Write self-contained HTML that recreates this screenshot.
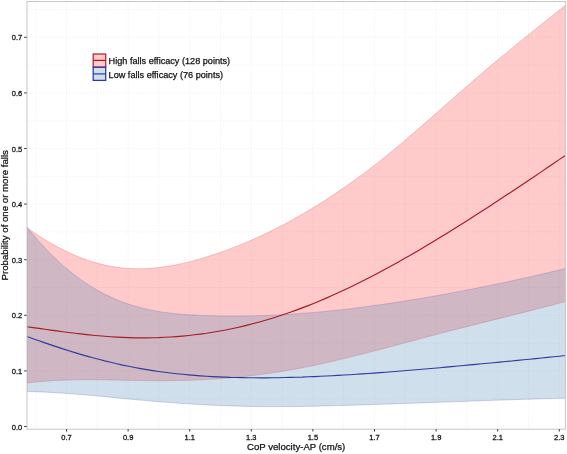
<!DOCTYPE html>
<html><head><meta charset="utf-8"><title>Probability of one or more falls</title>
<style>
html,body{margin:0;padding:0;background:#fff;}
body{width:567px;height:454px;overflow:hidden;}
svg{display:block;font-family:"Liberation Sans",Arial,sans-serif;}
</style></head><body>
<svg width="567" height="454" viewBox="0 0 567 454">
<rect width="567" height="454" fill="#fff"/>
<g stroke="#efefef" stroke-width="0.8" stroke-dasharray="1.2 1.6" fill="none">
<line x1="35.7" y1="1.5" x2="35.7" y2="429.2"/><line x1="66.5" y1="1.5" x2="66.5" y2="429.2"/><line x1="97.3" y1="1.5" x2="97.3" y2="429.2"/><line x1="128.1" y1="1.5" x2="128.1" y2="429.2"/><line x1="158.9" y1="1.5" x2="158.9" y2="429.2"/><line x1="189.7" y1="1.5" x2="189.7" y2="429.2"/><line x1="220.5" y1="1.5" x2="220.5" y2="429.2"/><line x1="251.3" y1="1.5" x2="251.3" y2="429.2"/><line x1="282.1" y1="1.5" x2="282.1" y2="429.2"/><line x1="312.9" y1="1.5" x2="312.9" y2="429.2"/><line x1="343.7" y1="1.5" x2="343.7" y2="429.2"/><line x1="374.5" y1="1.5" x2="374.5" y2="429.2"/><line x1="405.3" y1="1.5" x2="405.3" y2="429.2"/><line x1="436.1" y1="1.5" x2="436.1" y2="429.2"/><line x1="466.9" y1="1.5" x2="466.9" y2="429.2"/><line x1="497.7" y1="1.5" x2="497.7" y2="429.2"/><line x1="528.5" y1="1.5" x2="528.5" y2="429.2"/><line x1="559.3" y1="1.5" x2="559.3" y2="429.2"/><line x1="27.0" y1="426.5" x2="565.4" y2="426.5"/><line x1="27.0" y1="398.7" x2="565.4" y2="398.7"/><line x1="27.0" y1="370.9" x2="565.4" y2="370.9"/><line x1="27.0" y1="343.1" x2="565.4" y2="343.1"/><line x1="27.0" y1="315.3" x2="565.4" y2="315.3"/><line x1="27.0" y1="287.5" x2="565.4" y2="287.5"/><line x1="27.0" y1="259.7" x2="565.4" y2="259.7"/><line x1="27.0" y1="231.9" x2="565.4" y2="231.9"/><line x1="27.0" y1="204.1" x2="565.4" y2="204.1"/><line x1="27.0" y1="176.3" x2="565.4" y2="176.3"/><line x1="27.0" y1="148.5" x2="565.4" y2="148.5"/><line x1="27.0" y1="120.7" x2="565.4" y2="120.7"/><line x1="27.0" y1="92.9" x2="565.4" y2="92.9"/><line x1="27.0" y1="65.1" x2="565.4" y2="65.1"/><line x1="27.0" y1="37.3" x2="565.4" y2="37.3"/><line x1="27.0" y1="9.5" x2="565.4" y2="9.5"/>
</g>
<clipPath id="pc"><rect x="27.0" y="1.5" width="538.4" height="427.7"/></clipPath>
<g clip-path="url(#pc)">
<path d="M27.0 227.7 L33.0 231.9 L39.0 235.9 L45.0 239.7 L50.9 243.2 L56.9 246.6 L62.9 249.7 L68.9 252.6 L74.9 255.3 L80.8 257.7 L86.8 259.9 L92.8 261.9 L98.8 263.6 L104.8 265.1 L110.8 266.3 L116.8 267.3 L122.7 268.0 L128.7 268.5 L134.7 268.7 L140.7 268.7 L146.7 268.5 L152.7 268.1 L158.6 267.5 L164.6 266.8 L170.6 265.8 L176.6 264.7 L182.6 263.4 L188.6 262.0 L194.5 260.4 L200.5 258.7 L206.5 256.9 L212.5 255.0 L218.5 253.0 L224.4 250.9 L230.4 248.7 L236.4 246.4 L242.4 243.9 L248.4 241.4 L254.4 238.8 L260.4 236.1 L266.3 233.3 L272.3 230.3 L278.3 227.3 L284.3 224.2 L290.3 221.0 L296.2 217.6 L302.2 214.2 L308.2 210.7 L314.2 207.1 L320.2 203.4 L326.2 199.6 L332.1 195.7 L338.1 191.6 L344.1 187.5 L350.1 183.3 L356.1 179.0 L362.1 174.7 L368.1 170.2 L374.0 165.6 L380.0 160.9 L386.0 156.1 L392.0 151.2 L398.0 146.3 L403.9 141.2 L409.9 136.1 L415.9 131.0 L421.9 125.8 L427.9 120.5 L433.9 115.3 L439.9 110.0 L445.8 104.7 L451.8 99.4 L457.8 94.1 L463.8 88.9 L469.8 83.7 L475.8 78.5 L481.7 73.4 L487.7 68.3 L493.7 63.3 L499.7 58.3 L505.7 53.4 L511.6 48.5 L517.6 43.6 L523.6 38.7 L529.6 33.9 L535.6 29.1 L541.6 24.3 L547.5 19.6 L553.5 14.8 L559.5 10.1 L565.5 5.3 L565.5 301.5 L559.5 303.1 L553.5 304.7 L547.5 306.2 L541.6 307.8 L535.6 309.3 L529.6 310.9 L523.6 312.4 L517.6 313.9 L511.6 315.4 L505.7 316.9 L499.7 318.4 L493.7 319.9 L487.7 321.4 L481.7 322.9 L475.8 324.4 L469.8 325.9 L463.8 327.4 L457.8 329.0 L451.8 330.5 L445.8 332.0 L439.9 333.6 L433.9 335.1 L427.9 336.7 L421.9 338.3 L415.9 339.9 L409.9 341.5 L403.9 343.1 L398.0 344.7 L392.0 346.3 L386.0 347.9 L380.0 349.5 L374.0 351.0 L368.1 352.6 L362.1 354.1 L356.1 355.6 L350.1 357.1 L344.1 358.6 L338.1 360.0 L332.1 361.4 L326.2 362.8 L320.2 364.1 L314.2 365.4 L308.2 366.6 L302.2 367.8 L296.2 368.9 L290.3 370.0 L284.3 371.0 L278.3 372.0 L272.3 372.9 L266.3 373.7 L260.4 374.5 L254.4 375.3 L248.4 376.0 L242.4 376.6 L236.4 377.2 L230.4 377.8 L224.4 378.3 L218.5 378.7 L212.5 379.1 L206.5 379.5 L200.5 379.8 L194.5 380.1 L188.6 380.3 L182.6 380.4 L176.6 380.6 L170.6 380.7 L164.6 380.7 L158.6 380.7 L152.7 380.7 L146.7 380.6 L140.7 380.5 L134.7 380.4 L128.7 380.3 L122.7 380.2 L116.8 380.1 L110.8 379.9 L104.8 379.8 L98.8 379.8 L92.8 379.7 L86.8 379.7 L80.8 379.7 L74.9 379.8 L68.9 380.0 L62.9 380.2 L56.9 380.4 L50.9 380.8 L45.0 381.2 L39.0 381.7 L33.0 382.3 L27.0 383.0Z" fill="#ff2a2a" fill-opacity="0.25" stroke="#e06060" stroke-opacity="0.45" stroke-width="0.7"/>
<path d="M27.0 227.3 L33.0 234.6 L39.0 241.5 L45.0 248.1 L50.9 254.2 L56.9 260.0 L62.9 265.4 L68.9 270.5 L74.9 275.2 L80.8 279.7 L86.8 283.7 L92.8 287.5 L98.8 291.0 L104.8 294.2 L110.8 297.1 L116.8 299.7 L122.7 302.1 L128.7 304.2 L134.7 306.0 L140.7 307.7 L146.7 309.2 L152.7 310.4 L158.6 311.5 L164.6 312.4 L170.6 313.2 L176.6 313.8 L182.6 314.4 L188.6 314.8 L194.5 315.1 L200.5 315.4 L206.5 315.6 L212.5 315.8 L218.5 315.9 L224.4 316.0 L230.4 316.0 L236.4 316.0 L242.4 316.0 L248.4 315.9 L254.4 315.8 L260.4 315.6 L266.3 315.4 L272.3 315.2 L278.3 314.9 L284.3 314.6 L290.3 314.2 L296.2 313.8 L302.2 313.4 L308.2 312.9 L314.2 312.4 L320.2 311.9 L326.2 311.3 L332.1 310.7 L338.1 310.1 L344.1 309.4 L350.1 308.7 L356.1 308.0 L362.1 307.2 L368.1 306.4 L374.0 305.6 L380.0 304.8 L386.0 303.9 L392.0 303.0 L398.0 302.1 L403.9 301.2 L409.9 300.2 L415.9 299.3 L421.9 298.3 L427.9 297.2 L433.9 296.2 L439.9 295.1 L445.8 294.0 L451.8 292.9 L457.8 291.8 L463.8 290.7 L469.8 289.5 L475.8 288.3 L481.7 287.1 L487.7 285.9 L493.7 284.7 L499.7 283.4 L505.7 282.2 L511.6 280.9 L517.6 279.6 L523.6 278.2 L529.6 276.9 L535.6 275.5 L541.6 274.2 L547.5 272.8 L553.5 271.3 L559.5 269.9 L565.5 268.4 L565.5 398.2 L559.5 398.3 L553.5 398.5 L547.5 398.7 L541.6 398.8 L535.6 399.0 L529.6 399.2 L523.6 399.3 L517.6 399.5 L511.6 399.7 L505.7 399.9 L499.7 400.1 L493.7 400.3 L487.7 400.5 L481.7 400.7 L475.8 400.9 L469.8 401.1 L463.8 401.4 L457.8 401.6 L451.8 401.8 L445.8 402.0 L439.9 402.2 L433.9 402.4 L427.9 402.7 L421.9 402.9 L415.9 403.1 L409.9 403.3 L403.9 403.5 L398.0 403.7 L392.0 403.9 L386.0 404.1 L380.0 404.3 L374.0 404.5 L368.1 404.7 L362.1 404.9 L356.1 405.1 L350.1 405.3 L344.1 405.4 L338.1 405.6 L332.1 405.8 L326.2 405.9 L320.2 406.1 L314.2 406.2 L308.2 406.3 L302.2 406.4 L296.2 406.5 L290.3 406.6 L284.3 406.6 L278.3 406.6 L272.3 406.6 L266.3 406.6 L260.4 406.6 L254.4 406.5 L248.4 406.4 L242.4 406.3 L236.4 406.1 L230.4 405.9 L224.4 405.7 L218.5 405.5 L212.5 405.2 L206.5 404.9 L200.5 404.6 L194.5 404.2 L188.6 403.8 L182.6 403.5 L176.6 403.0 L170.6 402.6 L164.6 402.1 L158.6 401.7 L152.7 401.2 L146.7 400.6 L140.7 400.1 L134.7 399.6 L128.7 399.0 L122.7 398.4 L116.8 397.9 L110.8 397.3 L104.8 396.7 L98.8 396.1 L92.8 395.6 L86.8 395.0 L80.8 394.5 L74.9 394.0 L68.9 393.6 L62.9 393.1 L56.9 392.8 L50.9 392.4 L45.0 392.1 L39.0 391.9 L33.0 391.7 L27.0 391.5Z" fill="#4682b4" fill-opacity="0.255" stroke="#6a62b8" stroke-opacity="0.4" stroke-width="0.7"/>
<path d="M27.0 326.7 L33.0 327.6 L39.0 328.4 L45.0 329.3 L50.9 330.1 L56.9 330.9 L62.9 331.7 L68.9 332.5 L74.9 333.2 L80.8 333.9 L86.8 334.6 L92.8 335.2 L98.8 335.8 L104.8 336.3 L110.8 336.7 L116.8 337.1 L122.7 337.4 L128.7 337.6 L134.7 337.8 L140.7 337.8 L146.7 337.8 L152.7 337.7 L158.6 337.6 L164.6 337.3 L170.6 337.0 L176.6 336.6 L182.6 336.1 L188.6 335.5 L194.5 334.8 L200.5 334.1 L206.5 333.3 L212.5 332.3 L218.5 331.3 L224.4 330.2 L230.4 329.0 L236.4 327.7 L242.4 326.4 L248.4 324.9 L254.4 323.3 L260.4 321.7 L266.3 320.0 L272.3 318.2 L278.3 316.3 L284.3 314.3 L290.3 312.3 L296.2 310.1 L302.2 307.9 L308.2 305.6 L314.2 303.2 L320.2 300.7 L326.2 298.1 L332.1 295.5 L338.1 292.8 L344.1 290.0 L350.1 287.2 L356.1 284.3 L362.1 281.3 L368.1 278.3 L374.0 275.2 L380.0 272.0 L386.0 268.8 L392.0 265.5 L398.0 262.2 L403.9 258.8 L409.9 255.4 L415.9 251.9 L421.9 248.4 L427.9 244.8 L433.9 241.2 L439.9 237.6 L445.8 233.9 L451.8 230.2 L457.8 226.5 L463.8 222.7 L469.8 218.9 L475.8 215.1 L481.7 211.2 L487.7 207.4 L493.7 203.5 L499.7 199.6 L505.7 195.6 L511.6 191.7 L517.6 187.7 L523.6 183.7 L529.6 179.7 L535.6 175.7 L541.6 171.6 L547.5 167.6 L553.5 163.5 L559.5 159.4 L565.5 155.4" fill="none" stroke="#a51c24" stroke-width="1.15"/>
<path d="M27.0 336.5 L33.0 338.7 L39.0 340.8 L45.0 342.9 L50.9 344.9 L56.9 346.9 L62.9 348.9 L68.9 350.7 L74.9 352.6 L80.8 354.4 L86.8 356.1 L92.8 357.7 L98.8 359.3 L104.8 360.9 L110.8 362.3 L116.8 363.7 L122.7 365.1 L128.7 366.3 L134.7 367.5 L140.7 368.6 L146.7 369.6 L152.7 370.6 L158.6 371.5 L164.6 372.3 L170.6 373.0 L176.6 373.7 L182.6 374.3 L188.6 374.9 L194.5 375.4 L200.5 375.9 L206.5 376.3 L212.5 376.6 L218.5 376.9 L224.4 377.1 L230.4 377.4 L236.4 377.5 L242.4 377.6 L248.4 377.7 L254.4 377.8 L260.4 377.8 L266.3 377.8 L272.3 377.7 L278.3 377.7 L284.3 377.5 L290.3 377.4 L296.2 377.2 L302.2 377.1 L308.2 376.8 L314.2 376.6 L320.2 376.3 L326.2 376.0 L332.1 375.7 L338.1 375.4 L344.1 375.0 L350.1 374.7 L356.1 374.3 L362.1 373.9 L368.1 373.5 L374.0 373.1 L380.0 372.6 L386.0 372.2 L392.0 371.7 L398.0 371.2 L403.9 370.7 L409.9 370.2 L415.9 369.7 L421.9 369.2 L427.9 368.7 L433.9 368.2 L439.9 367.7 L445.8 367.1 L451.8 366.6 L457.8 366.0 L463.8 365.5 L469.8 364.9 L475.8 364.4 L481.7 363.8 L487.7 363.2 L493.7 362.7 L499.7 362.1 L505.7 361.5 L511.6 361.0 L517.6 360.4 L523.6 359.8 L529.6 359.2 L535.6 358.6 L541.6 358.0 L547.5 357.4 L553.5 356.8 L559.5 356.2 L565.5 355.5" fill="none" stroke="#2f3a9e" stroke-width="1.15"/>
</g>
<rect x="27.0" y="1.5" width="538.4" height="427.7" fill="none" stroke="#c6c6c6" stroke-width="1"/>
<g stroke="#333" stroke-width="1"><line x1="66.5" y1="429.2" x2="66.5" y2="431.5"/><line x1="128.1" y1="429.2" x2="128.1" y2="431.5"/><line x1="189.7" y1="429.2" x2="189.7" y2="431.5"/><line x1="251.3" y1="429.2" x2="251.3" y2="431.5"/><line x1="312.9" y1="429.2" x2="312.9" y2="431.5"/><line x1="374.5" y1="429.2" x2="374.5" y2="431.5"/><line x1="436.1" y1="429.2" x2="436.1" y2="431.5"/><line x1="497.7" y1="429.2" x2="497.7" y2="431.5"/><line x1="559.3" y1="429.2" x2="559.3" y2="431.5"/><line x1="24.2" y1="426.5" x2="26.6" y2="426.5"/><line x1="24.2" y1="370.9" x2="26.6" y2="370.9"/><line x1="24.2" y1="315.3" x2="26.6" y2="315.3"/><line x1="24.2" y1="259.7" x2="26.6" y2="259.7"/><line x1="24.2" y1="204.1" x2="26.6" y2="204.1"/><line x1="24.2" y1="148.5" x2="26.6" y2="148.5"/><line x1="24.2" y1="92.9" x2="26.6" y2="92.9"/><line x1="24.2" y1="37.3" x2="26.6" y2="37.3"/></g>
<g font-size="8px" fill="#111" stroke="#111" stroke-width="0.28"><text transform="translate(66.5 439.7) scale(0.94 1)" text-anchor="middle">0.7</text><text transform="translate(128.1 439.7) scale(0.94 1)" text-anchor="middle">0.9</text><text transform="translate(189.7 439.7) scale(0.94 1)" text-anchor="middle">1.1</text><text transform="translate(251.3 439.7) scale(0.94 1)" text-anchor="middle">1.3</text><text transform="translate(312.9 439.7) scale(0.94 1)" text-anchor="middle">1.5</text><text transform="translate(374.5 439.7) scale(0.94 1)" text-anchor="middle">1.7</text><text transform="translate(436.1 439.7) scale(0.94 1)" text-anchor="middle">1.9</text><text transform="translate(497.7 439.7) scale(0.94 1)" text-anchor="middle">2.1</text><text transform="translate(559.3 439.7) scale(0.94 1)" text-anchor="middle">2.3</text><text transform="translate(22.2 429.6) scale(0.94 1)" text-anchor="end">0.0</text><text transform="translate(22.2 374.0) scale(0.94 1)" text-anchor="end">0.1</text><text transform="translate(22.2 318.4) scale(0.94 1)" text-anchor="end">0.2</text><text transform="translate(22.2 262.8) scale(0.94 1)" text-anchor="end">0.3</text><text transform="translate(22.2 207.2) scale(0.94 1)" text-anchor="end">0.4</text><text transform="translate(22.2 151.6) scale(0.94 1)" text-anchor="end">0.5</text><text transform="translate(22.2 96.0) scale(0.94 1)" text-anchor="end">0.6</text><text transform="translate(22.2 40.4) scale(0.94 1)" text-anchor="end">0.7</text></g>
<text x="296.2" y="450.3" font-size="9.6px" fill="#111" stroke="#111" stroke-width="0.25" text-anchor="middle">CoP velocity-AP (cm/s)</text>
<text transform="translate(8.2 215.3) rotate(-90)" font-size="9.67px" fill="#111" stroke="#111" stroke-width="0.25" text-anchor="middle">Probability of one or more falls</text>
<g>
<rect x="93.2" y="54" width="12.5" height="13.1" fill="#ffcaca" stroke="#ae2530" stroke-width="1.25"/>
<line x1="93.2" y1="60.4" x2="105.7" y2="60.4" stroke="#a51c24" stroke-width="1.2"/>
<rect x="93.2" y="67.3" width="12.5" height="13.1" fill="#d0dfec" stroke="#2c38a6" stroke-width="1.25"/>
<line x1="93.2" y1="73.9" x2="105.7" y2="73.9" stroke="#2f3a9e" stroke-width="1.2"/>
<text x="108.6" y="64.0" font-size="9.15px" fill="#111" stroke="#111" stroke-width="0.25">High falls efficacy (128 points)</text>
<text x="108.6" y="77.8" font-size="9.15px" fill="#111" stroke="#111" stroke-width="0.25">Low falls efficacy (76 points)</text>
</g>
</svg>
</body></html>
